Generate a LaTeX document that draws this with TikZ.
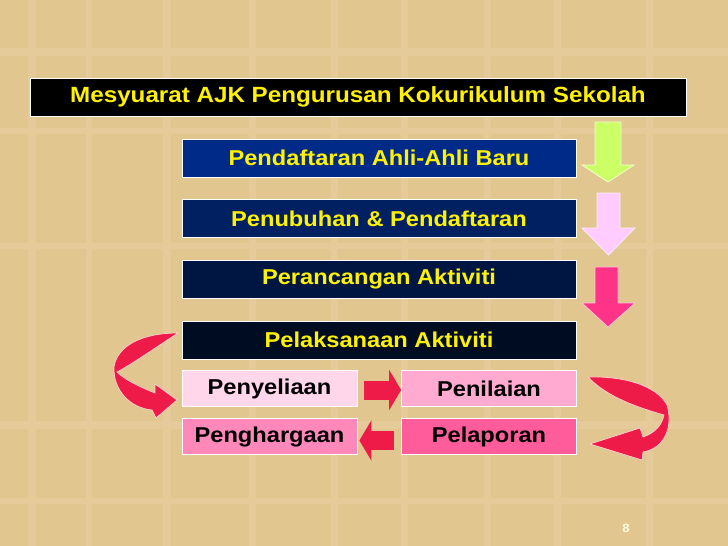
\documentclass[tikz,border=0pt]{standalone}
\usepackage{fontspec}
\setmainfont{Liberation Sans}[FakeStretch=1.1]
\usetikzlibrary{arrows.meta}
\definecolor{bgtan}{RGB}{226,198,143}
\definecolor{navyA}{RGB}{0,42,136}
\definecolor{navyB}{RGB}{0,32,98}
\definecolor{navyC}{RGB}{0,22,66}
\definecolor{navyD}{RGB}{0,12,34}
\definecolor{pinkA}{RGB}{255,214,234}
\definecolor{pinkB}{RGB}{255,170,208}
\definecolor{pinkC}{RGB}{255,136,187}
\definecolor{pinkD}{RGB}{255,92,156}
\definecolor{arrowred}{RGB}{238,26,72}
\definecolor{limegreen}{RGB}{204,255,102}
\definecolor{lilac}{RGB}{255,204,255}
\definecolor{hotpink}{RGB}{255,51,136}
\begin{document}
\begin{tikzpicture}[x=1pt,y=-1pt,
    box/.style={draw=white, line width=0.8pt, minimum height=38pt, inner sep=0pt},
    navybox/.style={box, minimum width=394pt, text=yellow, font=\bfseries\fontsize{21.5}{21.5}\selectfont},
    pinkbox/.style={box, minimum width=175pt, minimum height=36pt, text=black, font=\bfseries\fontsize{21.5}{21.5}\selectfont},
    fatarrow/.style={draw=arrowred, line width=19pt, -{Triangle[length=12pt,width=40pt]}},
    curvearrow/.style={fill=arrowred, draw=pink!70!white, line width=0.7pt},
    blockarrow/.style={line width=0.8pt}]
  \useasboundingbox (0,0) rectangle (728,546);
  \fill[bgtan] (0,0) rectangle (728,546);
  \fill[white, opacity=0.09]
    (28,0) rectangle (36,546) (86,0) rectangle (92,546) (163,0) rectangle (171,546)
    (249,0) rectangle (256,546) (331,0) rectangle (338,546) (401,0) rectangle (408,546)
    (484,0) rectangle (491,546) (554,0) rectangle (561,546) (646,0) rectangle (653,546)
    (0,48) rectangle (728,56) (0,128) rectangle (728,134) (0,243) rectangle (728,249)
    (0,421) rectangle (728,429) (0,498) rectangle (728,504);

  \node[box, fill=black, minimum width=656pt, text=yellow, font=\bfseries\fontsize{22}{22}\selectfont]
    (title) at (358,97) {Mesyuarat AJK Pengurusan Kokurikulum Sekolah};
  \node[navybox, fill=navyA] (daftar) at (379,158) {Pendaftaran Ahli-Ahli Baru};
  \node[navybox, fill=navyB] (tubuh) at (379,218.5) {Penubuhan \& Pendaftaran};
  \node[navybox, fill=navyC] (rancang) at (379,279) {Perancangan Aktiviti};
  \node[navybox, fill=navyD] (laksana) at (379,340) {Pelaksanaan Aktiviti};
  \node[pinkbox, fill=pinkA] (selia) at (269.5,388.5) {Penyeliaan};
  \node[pinkbox, fill=pinkB] (nilai) at (489,388.5) {Penilaian};
  \node[pinkbox, fill=pinkC] (hargai) at (269.5,436.5) {Penghargaan};
  \node[pinkbox, fill=pinkD] (lapor) at (489,436.5) {Pelaporan};

  \draw[fatarrow, shorten <=7pt] ([yshift=-1.5pt]selia.east) -- ([yshift=-1.5pt]nilai.west);
  \draw[fatarrow, shorten <=7pt, shorten >=2pt] ([yshift=-4pt]lapor.west) -- ([yshift=-4pt]hargai.east);

  \filldraw[blockarrow, fill=limegreen, draw=limegreen!30!white]
    (595,122) -- (621,122) -- (621,165) -- (634,165) -- (608,182) -- (582,165) -- (595,165) -- cycle;
  \filldraw[blockarrow, fill=lilac, draw=lilac!40!white]
    (597,193) -- (620,193) -- (620,228) -- (635,228) -- (608.5,255) -- (582,228) -- (597,228) -- cycle;
  \filldraw[blockarrow, fill=hotpink, draw=hotpink!30!white]
    (595,267) -- (618,267) -- (618,303) -- (635,303) -- (608,327) -- (582,303) -- (595,303) -- cycle;

  \filldraw[curvearrow] (178,333) .. controls (140,333) and (117,347) .. (114,367)
    .. controls (113,390) and (130,408) .. (152,410) -- (156,418) -- (177,400) -- (155,384) -- (155,393)
    .. controls (140,387) and (125,380) .. (117,372)
    .. controls (132,364) and (155,348) .. (178,333) -- cycle;
  \filldraw[curvearrow] (588,377) .. controls (625,376) and (657,386) .. (667,405)
    .. controls (673,425) and (666,448) .. (643,452) -- (642,460) -- (590,444) -- (640,428) -- (643,437)
    .. controls (655,433) and (662,425) .. (664,415)
    .. controls (640,408) and (608,398) .. (588,377) -- cycle;

  \node[text=white!85!yellow, font=\bfseries\fontsize{12}{12}\selectfont] (nomor) at (626,528) {8};
\end{tikzpicture}
\end{document}
